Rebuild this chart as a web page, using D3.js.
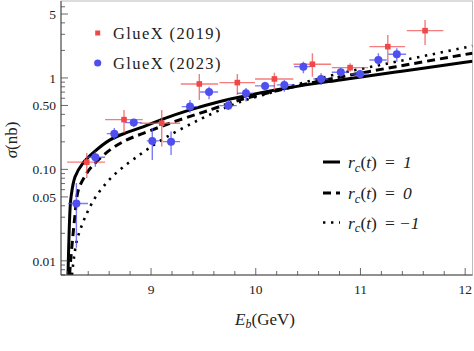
<!DOCTYPE html>
<html><head><meta charset="utf-8">
<script src="https://cdn.jsdelivr.net/npm/d3@7"></script>
<style>body{margin:0;background:#fff}svg{display:block}text{font-family:"Liberation Serif","Times New Roman",serif}</style>
</head><body><svg id="c" width="474" height="351"></svg>
<script>
// GlueX (2019)
const redE = [8.386,8.742,9.102,9.461,9.824,10.178,10.541,10.901,11.261,11.617];
const redSigma = [0.120,0.350,0.320,0.860,0.889,0.975,1.411,1.296,2.198,3.288];
const redSigmaHi = [0.1515,0.447,0.447,1.106,1.106,1.143,1.862,1.447,2.951,4.30];
const redSigmaLo = [0.0807,0.2505,0.1775,0.575,0.652,0.740,1.033,1.172,1.447,2.295];
const redELo = [8.198,8.561,8.895,9.284,9.652,9.993,10.361,10.726,11.085,11.442];
const redEHi = [8.561,8.921,9.277,9.640,9.993,10.359,10.719,11.073,11.426,11.792];
// GlueX (2023)
const blueE = [8.287,8.468,8.649,8.835,9.012,9.191,9.372,9.554,9.738,9.907,10.089,10.273,10.455,10.624,10.812,10.996,11.171,11.347];
const blueSigma = [0.0423,0.136,0.246,0.325,0.205,0.201,0.486,0.703,0.498,0.681,0.818,0.839,1.329,0.975,1.154,1.106,1.573,1.816];
const blueSigmaHi = [0.0712,0.157,0.284,0.356,0.284,0.259,0.575,0.803,0.575,0.777,0.911,0.951,1.507,1.126,1.286,1.223,1.862,2.112];
const blueSigmaLo = [0.0139,0.107,0.210,0.290,0.127,0.144,0.415,0.585,0.447,0.551,0.740,0.708,1.126,0.839,1.033,0.992,1.387,1.507];
const blueELo = [8.207,8.386,8.577,8.752,8.959,9.115,9.293,9.468,9.652,9.821,9.993,10.201,10.366,10.550,10.726,10.910,11.085,11.266];
const blueEHi = [8.398,8.561,8.704,8.911,9.076,9.277,9.449,9.640,9.819,9.974,10.184,10.375,10.519,10.693,10.884,11.082,11.251,11.436];
// model curves
const curveE1 = [8.207,8.210,8.226,8.236,8.274,8.351,8.446,8.608,8.771,8.924,9.105,9.372,9.659,9.946,10.328,10.805,11.378,11.999,12.07];
const curveS1 = [0.00703,0.01,0.0361,0.0500,0.0828,0.1178,0.1515,0.2101,0.2537,0.2914,0.3520,0.4470,0.5536,0.6518,0.7872,0.9509,1.1777,1.484,1.522];
const curveE0 = [8.222,8.231,8.250,8.274,8.306,8.386,8.449,8.608,8.768,8.924,9.086,9.229,9.401,9.535,9.850,10.137,10.328,10.805,11.378,11.999,12.07];
const curveS0 = [0.00703,0.00975,0.01696,0.0318,0.0597,0.0909,0.1120,0.1633,0.2101,0.2474,0.2914,0.3346,0.3892,0.4358,0.5749,0.6944,0.7872,1.0255,1.352,1.806,1.866];
const curveEm1 = [8.245,8.265,8.293,8.341,8.398,8.465,8.542,8.628,8.723,8.838,8.971,9.134,9.325,9.535,9.850,10.137,10.328,10.805,11.378,11.999,12.07];
const curveSm1 = [0.00703,0.01106,0.01696,0.02474,0.0352,0.0488,0.0644,0.0828,0.1038,0.1302,0.1675,0.2210,0.2914,0.3843,0.5466,0.6858,0.8075,1.1199,1.534,2.154,2.237];
const xTicks = [9,10,11,12];
const yTickVals = [0.01,0.05,0.1,0.5,1,5];
const yTickLabels = ["0.01","0.05","0.10","0.50","1","5"];
const curveLabels = ["1","0","\u22121"];

const svg = d3.select("#c");
const L=61,R=472.5,T=1,B=275;
const x = d3.scaleLinear().domain([8.14,12.07]).range([L,R]);
const y = d3.scaleLog().domain([0.007,6.94]).range([B,T]);
const axisCol="#444";

// frame
svg.append("rect").attr("x",L).attr("y",T).attr("width",R-L).attr("height",B-T)
  .attr("fill","none").attr("stroke","#bbb").attr("stroke-width",1);

svg.append("defs").append("clipPath").attr("id","clip").append("rect")
  .attr("x",L).attr("y",T).attr("width",R-L).attr("height",B-T);

// curves
const curves=[
 {E:curveE1,S:curveS1,dash:null,w:3},
 {E:curveE0,S:curveS0,dash:"8,5",w:3},
 {E:curveEm1,S:curveSm1,dash:"2.4,5.6",w:2.6}];
const gC=svg.append("g").attr("clip-path","url(#clip)");
curves.forEach(c=>{
  gC.append("path").datum(c.E.map((e,i)=>[e,c.S[i]]))
   .attr("d",d3.line().x(d=>x(d[0])).y(d=>y(d[1])).curve(d3.curveCatmullRom.alpha(0.5)))
   .attr("fill","none").attr("stroke","#000").attr("stroke-width",c.w)
   .attr("stroke-dasharray",c.dash);
});

function series(E,S,Lo,Hi,ELo,EHi,errCol){
  const g=svg.append("g").attr("clip-path","url(#clip)");
  E.forEach((e,i)=>{
    g.append("line").attr("x1",x(ELo[i])).attr("x2",x(EHi[i])).attr("y1",y(S[i])).attr("y2",y(S[i]))
     .attr("stroke",errCol).attr("stroke-width",1.4);
    g.append("line").attr("x1",x(e)).attr("x2",x(e)).attr("y1",y(Lo[i])).attr("y2",y(Hi[i]))
     .attr("stroke",errCol).attr("stroke-width",1.4);
  });
  return g;
}
const gR=series(redE,redSigma,redSigmaLo,redSigmaHi,redELo,redEHi,"rgba(240,80,80,0.75)");
gR.selectAll("rect.m").data(redE).join("rect").attr("x",(d)=>x(d)-2.8).attr("y",(d,i)=>y(redSigma[i])-2.8)
  .attr("width",5.6).attr("height",5.6).attr("fill","#f04848");
const gB=series(blueE,blueSigma,blueSigmaLo,blueSigmaHi,blueELo,blueEHi,"rgba(80,80,240,0.75)");
gB.selectAll("circle").data(blueE).join("circle").attr("cx",d=>x(d)).attr("cy",(d,i)=>y(blueSigma[i]))
  .attr("r",4).attr("fill","#4f4ff0");

// axes
const gx=svg.append("g");
gx.append("line").attr("x1",L).attr("x2",R).attr("y1",B).attr("y2",B).attr("stroke",axisCol).attr("stroke-width",1);
d3.range(8.2,12.05,0.2).forEach(v=>{
  const major=xTicks.some(t=>Math.abs(t-v)<1e-6);
  gx.append("line").attr("x1",x(v)).attr("x2",x(v)).attr("y1",B).attr("y2",B-(major?7:4)).attr("stroke",axisCol).attr("stroke-width",0.8);
});
xTicks.forEach(t=>gx.append("text").attr("x",x(t)).attr("y",293.5).attr("text-anchor","middle").attr("font-size",13.5).attr("fill","#222").text(t));

const gy=svg.append("g");
gy.append("line").attr("x1",L).attr("x2",L).attr("y1",T).attr("y2",B).attr("stroke",axisCol).attr("stroke-width",1);
[0.001,0.01,0.1,1].forEach(dec=>{
  for(let k=1;k<10;k++){
    const v=dec*k; if(v<0.007||v>6.94) continue;
    const major=yTickVals.some(t=>Math.abs(t-v)/t<1e-6);
    gy.append("line").attr("x1",L).attr("x2",L+(major?7:4)).attr("y1",y(v)).attr("y2",y(v)).attr("stroke",axisCol).attr("stroke-width",0.8);
  }
});
yTickVals.forEach((t,i)=>gy.append("text").attr("x",56).attr("y",y(t)).attr("dy","0.35em").attr("text-anchor","end").attr("font-size",13.5).attr("fill","#222").text(yTickLabels[i]));

// axis labels
const xl=svg.append("text").attr("x",265).attr("y",325).attr("text-anchor","middle").attr("font-size",17).attr("fill","#222");
xl.append("tspan").attr("font-style","italic").text("E");
xl.append("tspan").attr("font-style","italic").attr("font-size",12).attr("dy",3).text("b");
xl.append("tspan").attr("dy",-3).text("(GeV)");
const yl=svg.append("text").attr("transform","translate(17,140) rotate(-90)").attr("text-anchor","middle").attr("font-size",17).attr("fill","#222");
yl.append("tspan").attr("font-style","italic").text("\u03c3");
yl.append("tspan").text("(nb)");

// legend points
svg.append("rect").attr("x",97.7-2.5).attr("y",33-2.5).attr("width",5).attr("height",5).attr("fill","#f04848");
svg.append("circle").attr("cx",97.7).attr("cy",63).attr("r",3.6).attr("fill","#4f4ff0");
svg.append("text").attr("x",113).attr("y",33).attr("dy","0.35em").attr("font-size",16.5).attr("letter-spacing",1.4).attr("fill","#222").text("GlueX (2019)");
svg.append("text").attr("x",113).attr("y",63).attr("dy","0.35em").attr("font-size",16.5).attr("letter-spacing",1.4).attr("fill","#222").text("GlueX (2023)");

// legend curves
const legY=[162,193,222.5];
curves.forEach((c,i)=>{
  svg.append("line").attr("x1",323).attr("x2",340).attr("y1",legY[i]).attr("y2",legY[i]).attr("stroke","#000")
    .attr("stroke-width",c.w).attr("stroke-dasharray",c.dash);
  const t=svg.append("text").attr("x",348).attr("y",legY[i]).attr("dy","0.35em").attr("font-size",17.5).attr("fill","#222");
  t.append("tspan").attr("font-style","italic").text("r");
  t.append("tspan").attr("font-style","italic").attr("font-size",12.5).attr("dy",3.5).text("c");
  t.append("tspan").attr("dy",-3.5).text("(");
  t.append("tspan").attr("font-style","italic").text("t");
  t.append("tspan").text(")");
  t.append("tspan").attr("x",385).text("=");
  t.append("tspan").attr("x",i===2?399:403).attr("font-style","italic").text(curveLabels[i]);
});
</script></body></html>
